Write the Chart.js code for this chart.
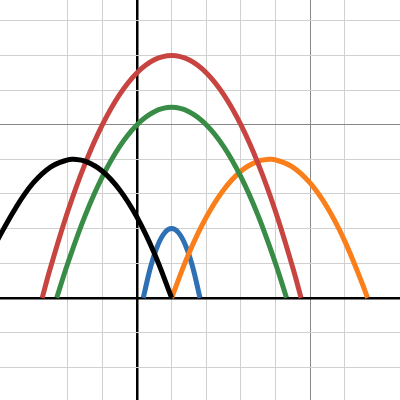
<!DOCTYPE html>
<html><head><script src="https://cdn.jsdelivr.net/npm/chart.js@4"></script>
<style>body{margin:0;background:#fff}</style></head><body>
<canvas id="c" width="400" height="400"></canvas>
<script>
const redX=[-2.74,-2.5,-2,-1.5,-1,-0.5,0,0.5,1,1.5,2,2.5,3,3.5,4,4.5,4.74];
const redY=[0,0.875,2.5,3.875,5,5.875,6.5,6.875,7,6.875,6.5,5.875,5,3.875,2.5,0.875,0];
const greenX=[-2.32,-2,-1.5,-1,-0.5,0,0.5,1,1.5,2,2.5,3,3.5,4,4.32];
const greenY=[0,1,2.375,3.5,4.375,5,5.375,5.5,5.375,5,4.375,3.5,2.375,1,0];
const orangeX=[1,1.5,2,2.5,3,3.5,3.83,4,4.5,5,5.5,6,6.5,6.66];
const orangeY=[0,1.285,2.325,3.115,3.656,3.946,4,3.986,3.776,3.316,2.606,1.646,0.436,0];
const blackX=[-4.1,-3.5,-3,-2.5,-2,-1.83,-1.5,-1,-0.5,0,0.5,1];
const blackY=[1.55,2.606,3.316,3.776,3.986,4,3.946,3.656,3.115,2.325,1.285,0];
const blueX=[0.18,0.4,0.6,0.8,1,1.2,1.4,1.6,1.82];
const blueY=[0,0.92,1.52,1.88,2,1.88,1.52,0.92,0];
const pts=(xs,ys)=>xs.map((x,i)=>({x,y:ys[i]}));
const ds=(xs,ys,c)=>({data:pts(xs,ys),borderColor:c,borderWidth:5,showLine:true,pointRadius:0,tension:0.4,fill:false});
const gridColor=ctx=>{const v=ctx.tick&&ctx.tick.value;if(v==null||Math.abs(v-Math.round(v))>1e-6)return'rgba(0,0,0,0)';if(Math.round(v)===0)return'#000';return Math.round(v)%5===0?'#888':'#d0d0d0';};
const gridW=ctx=>{const v=ctx.tick&&ctx.tick.value;return (v!=null&&Math.abs(v)<1e-6)?2.5:1;};
new Chart(document.getElementById('c'),{type:'scatter',
data:{datasets:[ds(blackX,blackY,'#000000'),ds(greenX,greenY,'#388c46'),ds(redX,redY,'#c74440'),ds(orangeX,orangeY,'#fa7e19'),ds(blueX,blueY,'#2d70b3')]},
options:{responsive:false,animation:false,layout:{padding:0},plugins:{legend:{display:false},tooltip:{enabled:false}},
scales:{x:{type:'linear',min:-3.96,max:7.6,ticks:{display:false,stepSize:1},border:{display:false},grid:{color:gridColor,lineWidth:gridW,drawTicks:false}},
y:{type:'linear',min:-2.95,max:8.6,ticks:{display:false,stepSize:1},border:{display:false},grid:{color:gridColor,lineWidth:gridW,drawTicks:false}}}}});
</script></body></html>
